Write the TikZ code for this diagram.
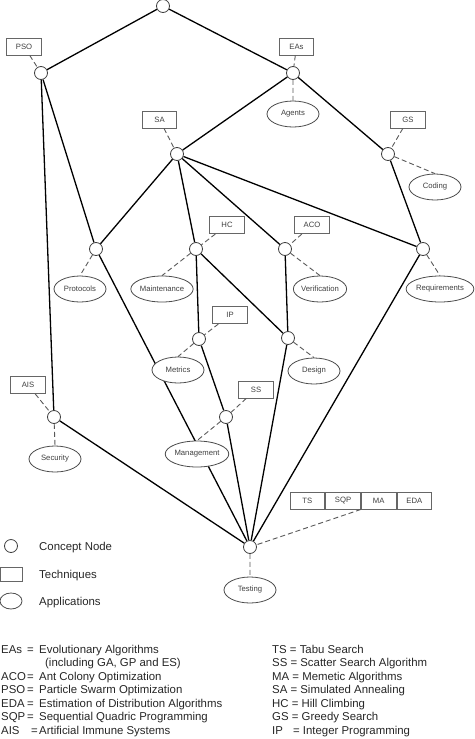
\documentclass[tikz,border=0pt]{standalone}
\usepackage{fontspec}
\setmainfont{Liberation Sans}
\usetikzlibrary{shapes.geometric,backgrounds}

\begin{document}
\begin{tikzpicture}[x=1pt,y=-1pt,
  concept/.style={circle,draw=black!75,fill=white,line width=0.8pt,minimum size=13pt,inner sep=0pt},
  tech/.style={rectangle,draw=black!60,fill=white,line width=0.9pt,minimum width=34.5pt,minimum height=17pt,inner sep=0pt,font=\fontsize{7.7}{9}\selectfont,text=black!75},
  appl/.style={ellipse,draw=black!70,fill=white,line width=0.8pt,minimum width=52pt,minimum height=26pt,inner sep=0pt,font=\fontsize{7.7}{9}\selectfont,text=black!75},
  link/.style={line width=1.3pt,black},
  assoc/.style={draw=black!65,line width=0.9pt,dash pattern=on 5pt off 3pt},
  legtext/.style={anchor=base west,inner sep=0pt,font=\fontsize{11.4}{13}\selectfont,text=black!85}]
\useasboundingbox (0,0) rectangle (474,739);
\node[concept] (cTop) at (163,6) {};
\node[concept] (cPSO) at (41,73) {};
\node[concept] (cEAs) at (293,73) {};
\node[concept] (cSA) at (177,154) {};
\node[concept] (cGS) at (388,154) {};
\node[concept] (cProt) at (96,249) {};
\node[concept] (cHC) at (196,249) {};
\node[concept] (cACO) at (285,249) {};
\node[concept] (cReq) at (423,249) {};
\node[concept] (cIP) at (199,339) {};
\node[concept] (cDes) at (288,338) {};
\node[concept] (cAIS) at (54,417) {};
\node[concept] (cSS) at (226,417) {};
\node[concept] (cTest) at (250,547) {};
\node[tech] (PSO) at (24,46.5) {PSO};
\node[tech] (EAs) at (296.5,46.5) {EAs};
\node[tech] (SA) at (159.5,119.5) {SA};
\node[tech] (GS) at (408,119.5) {GS};
\node[tech] (HC) at (227,225) {HC};
\node[tech] (ACO) at (312,225) {ACO};
\node[tech] (IP) at (230,315) {IP};
\node[tech] (AIS) at (28,385) {AIS};
\node[tech] (SS) at (256,389.5) {SS};
\node[tech,minimum width=34.75pt] (TS) at (307.4,500.5) {TS};
\node[tech,minimum width=34.75pt,anchor=west] (SQP) at (TS.east) {SQP};
\node[tech,minimum width=34.75pt,anchor=west] (MA) at (SQP.east) {MA};
\node[tech,minimum width=34.75pt,anchor=west] (EDA) at (MA.east) {EDA};
\node[appl] (Agents) at (293,114) {Agents};
\node[appl] (Coding) at (435,187) {Coding};
\node[appl] (Protocols) at (80,289) {Protocols};
\node[appl] (Maintenance) at (162,289) {Maintenance};
\node[appl] (Verification) at (320,289) {Verification};
\node[appl] (Requirements) at (440,289) {Requirements};
\node[appl] (Metrics) at (178,370) {Metrics};
\node[appl] (Design) at (314,371) {Design};
\node[appl] (Security) at (55,459) {Security};
\node[appl] (Management) at (197,454) {Management};
\node[appl] (Testing) at (250,590) {Testing};
\begin{pgfonlayer}{background}
\draw[link] (cTop)--(cPSO) (cTop)--(cEAs) (cPSO)--(cAIS) (cPSO)--(cProt)
  (cEAs)--(cSA) (cEAs)--(cGS) (cGS)--(cReq)
  (cSA)--(cProt) (cSA)--(cHC) (cSA)--(cACO) (cSA)--(cReq)
  (cHC)--(cIP) (cHC)--(cDes) (cACO)--(cDes) (cIP)--(cSS)
  (cProt)--(cTest) (cAIS)--(cTest) (cSS)--(cTest) (cDes)--(cTest) (cReq)--(cTest);
\end{pgfonlayer}
\draw[assoc] (PSO)--(cPSO) (EAs)--(cEAs) (SA)--(cSA) (GS)--(cGS) (HC)--(cHC)
  (ACO)--(cACO) (IP)--(cIP) (AIS)--(cAIS) (SS)--(cSS) (MA.south west)--(cTest);
\draw[assoc] (cEAs)--(Agents.north) (cGS)--(Coding.north) (cProt)--(Protocols.north)
  (cHC)--(Maintenance.north) (cACO)--(Verification.north) (cReq)--(Requirements.north)
  (cIP)--(Metrics.north) (cDes)--(Design.north) (cAIS)--(Security.north)
  (cSS)--(Management.north) (cTest)--(Testing.north);
% legend
\node[concept] (legC) at (11,546) {};
\node[rectangle,draw=black!60,line width=0.9pt,minimum width=22pt,minimum height=14pt,inner sep=0pt] (legT) at (11,574) {};
\node[ellipse,draw=black!70,line width=0.8pt,minimum width=22pt,minimum height=16pt,inner sep=0pt] (legA) at (11,601) {};
\node[legtext] (legCt) at (39,550) {Concept Node};
\node[legtext] (legTt) at (39,578) {Techniques};
\node[legtext] (legAt) at (39,605) {Applications};
% abbreviations
\foreach \ab/\ex/\eq/\row in {EAs/Evolutionary Algorithms/27/0, ACO/Ant Colony Optimization/27/2,
    PSO/Particle Swarm Optimization/27/3, EDA/Estimation of Distribution Algorithms/27/4,
    SQP/Sequential Quadric Programming/27/5, AIS/Artificial Immune Systems/31/6}{
  \node[legtext] (ab\row) at (1,653+13.5*\row) {\ab};
  \node[legtext] (eq\row) at (\eq,653+13.5*\row) {=};
  \node[legtext] (ex\row) at (39,653+13.5*\row) {\ex};
}
\node[legtext] (ex1) at (45,666.5) {(including GA, GP and ES)};
\foreach \tx/\row in {TS = Tabu Search/0, SS = Scatter Search Algorithm/1, MA = Memetic Algorithms/2,
    SA = Simulated Annealing/3, HC = Hill Climbing/4, GS = Greedy Search/5,
    IP\hspace{7pt} = Integer Programming/6}{
  \node[legtext] (rt\row) at (272,653+13.5*\row) {\tx};
}
\end{tikzpicture}
\end{document}
